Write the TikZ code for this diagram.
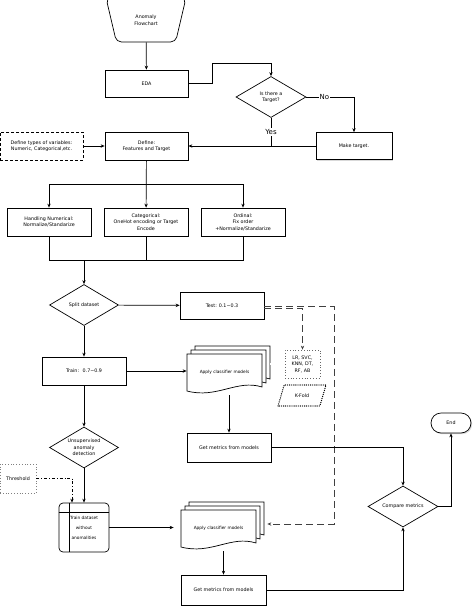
\documentclass[tikz,border=0pt]{standalone}
\usepackage{fontspec}
\setsansfont{DejaVu Sans}
\usetikzlibrary{shapes.geometric,shapes.misc,arrows.meta,shadows}

% stack of three wavy pages, #1,#2 = top left corner of the front page
\newcommand\docstack[2]{%
  \foreach \d in {8,4,0}
    \draw[-,fill=white] (#1+\d,#2-\d) -- ++(75,0) -- ++(0,33)
      .. controls +(-25,-8) and +(30,8) .. (#1+\d,#2-\d+37) -- cycle;
}

\begin{document}
\begin{tikzpicture}[->,>={Stealth[length=4pt,width=3.4pt]},x=1pt,y=-1pt,line width=0.7pt,
    main node/.style={draw,rectangle,fill=white,align=center,inner sep=1pt,
      font=\sffamily\fontsize{4.8}{6.5}\selectfont},
    box/.style={main node,minimum width=84pt,minimum height=28pt,
      drop shadow={shadow xshift=1.2pt,shadow yshift=-1.2pt,opacity=0.3}},
    decision/.style={main node,diamond,aspect=1.7,minimum width=70pt,minimum height=41pt,inner sep=0pt},
    note/.style={main node,draw=gray,dotted,line width=0.8pt},
    lbl/.style={fill=white,inner sep=1pt,font=\sffamily\fontsize{7}{8}\selectfont},
    longdash/.style={dash pattern=on 7pt off 4pt,draw=black!75}]
    \useasboundingbox (0,0) rectangle (474,606);

    \docstack{187}{354}
    \docstack{181}{510}

    \node[main node,trapezium,shape border rotate=180,trapezium angle=70,trapezium stretches=true,
      minimum width=80pt,minimum height=44pt,rounded corners=5pt] (1) at (146,20) {Anomaly\\Flowchart};
    \node[box,minimum width=83pt,minimum height=27pt] (2) at (146.5,83.5) {EDA};
    \node[decision] (3) at (271,97) {Is there a\\Target?};
    \node[box,minimum width=76pt,minimum height=27pt] (4) at (354,146) {Make target.};
    \node[box,minimum width=83pt] (5) at (146.5,146) {Define:\\Features and Target};
    \node[main node,dashed,dash pattern=on 3pt off 2pt,minimum width=83pt,minimum height=28pt] (6) at (41.5,146)
      {Define types of variables:\\Numeric, Categorical,etc.};
    \node[box] (7) at (49,222) {Handling Numerical:\\Normalize/Standarize};
    \node[box] (8) at (146,222) {Categorical:\\OneHot encoding or Target\\Encode};
    \node[box] (9) at (243,222) {Ordinal:\\Fix order\\+Normalize/Standarize};
    \node[decision,minimum width=69pt] (10) at (84,305) {Split dataset};
    \node[box,minimum height=27pt] (11) at (222,305.5) {Test: 0.1\textasciitilde0.3};
    \node[box] (12) at (84,371) {Train:~ 0.7\textasciitilde0.9};
    \node[draw=none,minimum width=75pt,minimum height=37pt,inner sep=0pt,
      font=\sffamily\fontsize{4.3}{5.5}\selectfont] (13) at (224.5,372.5) {Apply classifier models};
    \node[note,draw=black!60,minimum width=35pt,minimum height=28pt] (14) at (302.5,364) {LR, SVC,\\KNN, DT,\\RF, AB};
    \node[main node,trapezium,trapezium left angle=64,trapezium right angle=116,trapezium stretches=true,
      minimum width=48pt,minimum height=21pt,dash pattern=on 0.1pt off 2pt,line width=1.3pt,line cap=round]
      (15) at (302,395.5) {K-Fold};
    \node[box,minimum height=29pt] (16) at (229,447.5) {Get metrics from models};
    \node[decision,minimum width=69pt] (17) at (84,447.5) {Unsupervised\\anomaly\\detection};
    \node[note,minimum width=36pt,minimum height=29pt] (18) at (18,478.5) {Threshold};
    \node[main node,rounded corners=4pt,minimum width=50pt,minimum height=49pt,
      font=\sffamily\fontsize{4.3}{10}\selectfont] (19) at (84,527.5) {Train dataset\\without\\anomalities};
    \node[draw=none,minimum width=75pt,minimum height=37pt,inner sep=0pt,
      font=\sffamily\fontsize{4.3}{5.5}\selectfont] (20) at (218.5,528.5) {Apply classifier models};
    \node[box,minimum width=85pt,minimum height=30pt] (21) at (223.5,590) {Get metrics from models};
    \node[decision] (22) at (403,506.5) {Compare metrics};
    \node[main node,rounded rectangle,minimum width=42pt,minimum height=20pt,
      drop shadow={shadow xshift=1.2pt,shadow yshift=-1.2pt,opacity=0.3}] (23) at (451,423) {End};

    % storage marks
    \draw[-] ([yshift=-10pt]19.north west) -- ([yshift=-10pt]19.north east);
    \draw[-] ([xshift=11pt]19.north west) -- ([xshift=11pt]19.south west);

    \coordinate (c1) at (146,184);
    \coordinate (c2) at (146,260);
    \coordinate (c3) at (334,306.5);

    \path (1) edge (2)
          (5) edge (8)
          (10) edge (11)
          (10) edge (12)
          (12) edge (17)
          (17) edge (19);
    \draw (2.east) -- ++(24,0) -- ++(0,-20.5) -| (3.north);
    \draw (3.east) -| node[pos=0.19,lbl] {No} (4.north);
    \draw[-] (3.south) -- node[lbl] {Yes} (3.south |- 5.east);
    \draw (4.west) -- (5.east);
    \draw (6.east) -- (5.west);
    \draw (c1) -| (7);
    \draw (c1) -| (9);
    \draw[-] (7.south) |- (c2);
    \draw[-] (9.south) |- (c2);
    \draw[-] (8.south) -- (c2);
    \draw (10.north |- c2) -- (10.north);
    \draw[longdash] ([yshift=-3pt]11.east) -| (14.north);
    \draw[longdash] ([yshift=-1pt]11.east) -- (c3) |- ([xshift=11pt,yshift=4.5pt]20.east);
    \draw[-,double,double distance=1.2pt,line width=0.4pt] ([xshift=8pt,yshift=8.5pt]13.east) -- (14.west);
    \draw (12.east) -- (12.east -| 13.west);
    \draw ([yshift=-4pt]13.south -| 16.north) -- (16.north);
    \draw (16.east) -| (22.north);
    \draw (22.east) -| (23.south);
    \draw[dash dot] (18.east) -| ([xshift=-12pt]19.north);
    \draw (19.east) -- ([xshift=-7pt]19.east -| 20.west);
    \draw ([yshift=-4pt]20.south -| 21.north) -- (21.north);
    \draw (21.east) -| (22.south);
\end{tikzpicture}
\end{document}
